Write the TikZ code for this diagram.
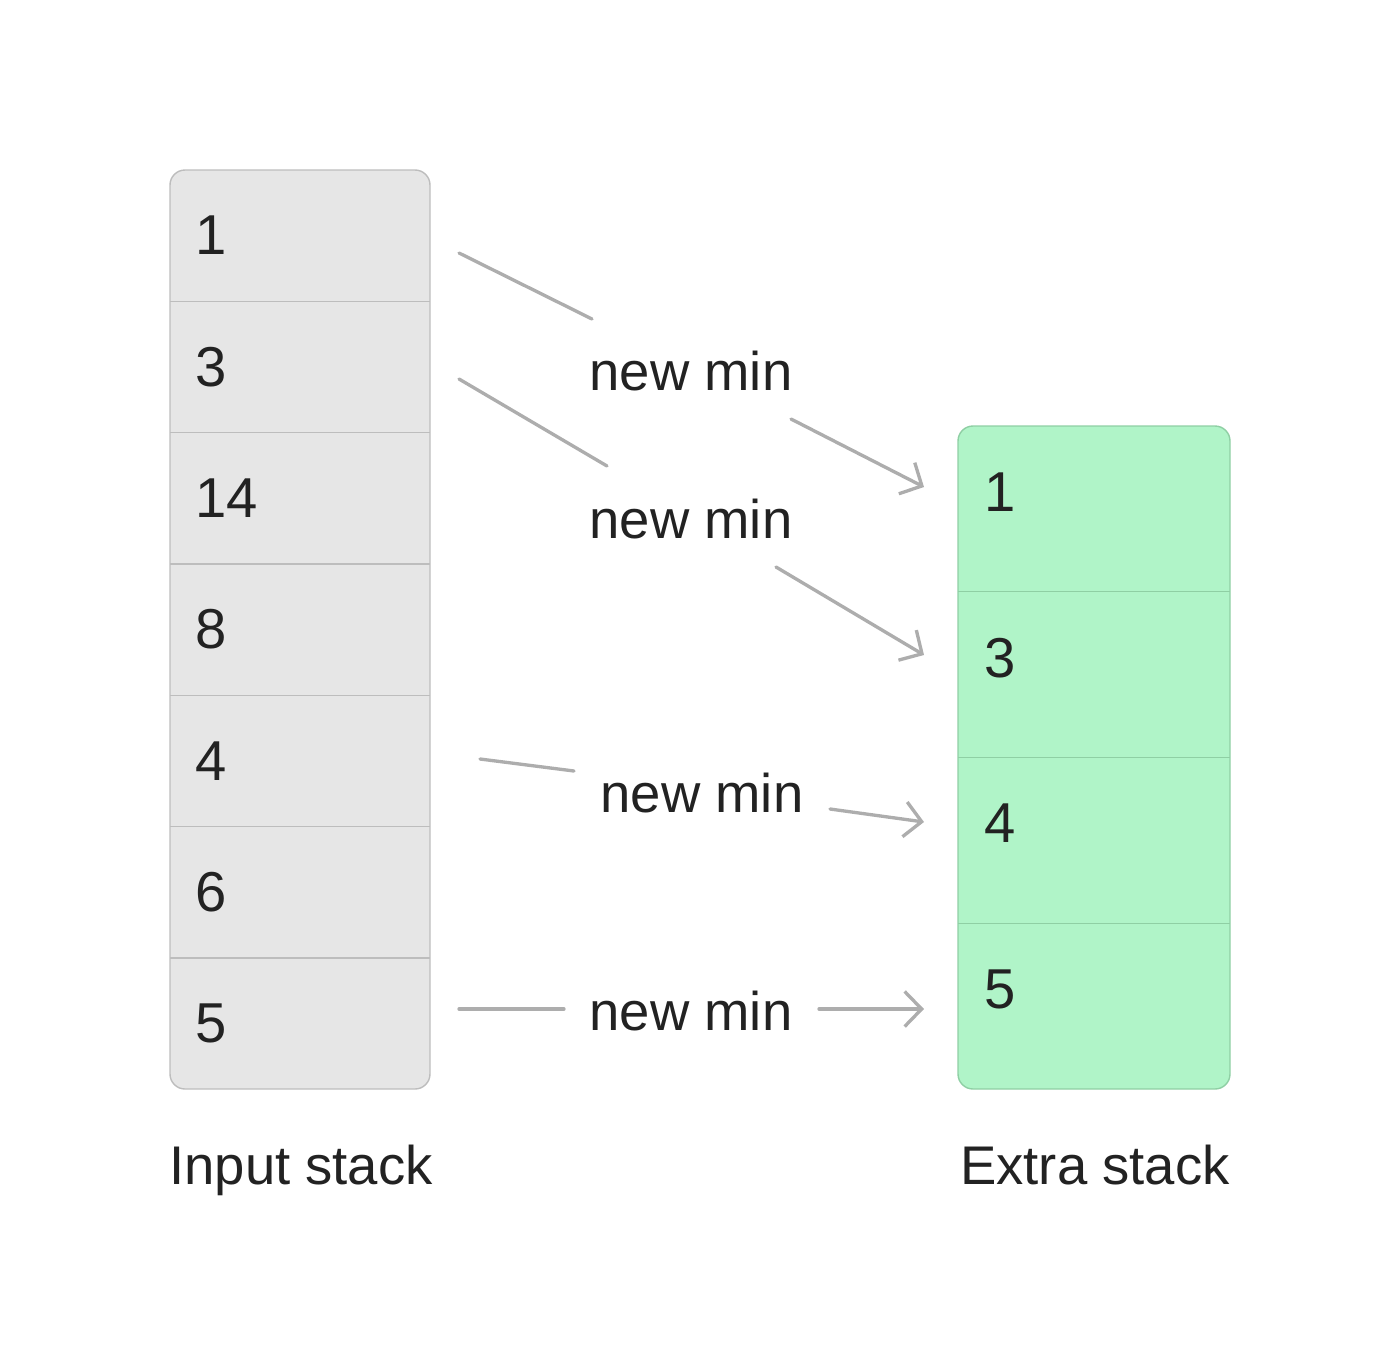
\documentclass[tikz,border=0pt]{standalone}
\usepackage{fontspec}
\setmainfont{Liberation Sans}
\usetikzlibrary{arrows.meta}

\definecolor{stackgray}{HTML}{E6E6E6}
\definecolor{stackline}{HTML}{BDBDBD}
\definecolor{extragreen}{HTML}{B0F4C8}
\definecolor{extraline}{HTML}{8FCFA4}
\definecolor{linkgray}{HTML}{ADADAD}
\definecolor{ink}{HTML}{222222}

\tikzset{
    inbox/.style={draw=stackline, fill=stackgray, line width=0.8pt, rounded corners=0.3cm},
    extrabox/.style={draw=extraline, fill=extragreen, line width=0.8pt, rounded corners=0.3cm},
    num/.style={anchor=west, inner sep=0pt, text=ink, font=\fontsize{32}{38}\selectfont},
    lbl/.style={inner sep=0pt, text=ink, font=\fontsize{31}{37}\selectfont},
    link/.style={draw=linkgray, line width=1.9pt, line cap=round},
    linkarrow/.style={link, -{Straight Barb[length=0.34cm, width=0.7cm, line width=1.9pt]}}
}

\begin{document}
\begin{tikzpicture}[x=0.02cm, y=-0.02cm]

    \useasboundingbox (0,0) rectangle (1400,1363);

    % Input stack
    \draw[inbox] (170,170) rectangle (430,1089);
    \foreach \i in {1,...,6}
        \draw[stackline, line width=0.8pt] (170,{170+\i*131.3}) -- (430,{170+\i*131.3});
    \foreach \v [count=\i] in {1,3,14,8,4,6,5}
        \node[num] (in\i) at (195,{235.5+(\i-1)*131.3}) {\v};

    % Extra stack
    \draw[extrabox] (958,426) rectangle (1230,1089);
    \foreach \i in {1,...,3}
        \draw[extraline, line width=0.8pt] (958,{426+\i*165.75}) -- (1230,{426+\i*165.75});
    \foreach \v [count=\i] in {1,3,4,5}
        \node[num] (ex\i) at (984,{492+(\i-1)*165.75}) {\v};

    % Labels
    \node[lbl] (min1) at (691,371) {new min};
    \node[lbl] (min2) at (691,519) {new min};
    \node[lbl] (min3) at (702,793) {new min};
    \node[lbl] (min4) at (691,1011) {new min};

    \node[lbl, anchor=base west] (inlbl) at (169,1184) {Input stack};
    \node[lbl, anchor=base east] (exlbl) at (1230,1184) {Extra stack};

    % Link end points
    \coordinate (a1s) at (459,253);
    \coordinate (a1m) at (592,319);
    \coordinate (a1n) at (791,419);
    \coordinate (a1e) at (924,487);

    \coordinate (a2s) at (459,379);
    \coordinate (a2m) at (607,466);
    \coordinate (a2n) at (776,567);
    \coordinate (a2e) at (924,655);

    \coordinate (a3s) at (480,759);
    \coordinate (a3m) at (574,771);
    \coordinate (a3n) at (830,809);
    \coordinate (a3e) at (924,822);

    \coordinate (a4s) at (459,1009);
    \coordinate (a4m) at (564,1009);
    \coordinate (a4n) at (819,1009);
    \coordinate (a4e) at (924,1009);

    % Links from input to extra stack
    \foreach \k in {1,...,4} {
        \draw[link] (a\k s) -- (a\k m);
        \draw[linkarrow] (a\k n) -- (a\k e);
    }

\end{tikzpicture}
\end{document}
